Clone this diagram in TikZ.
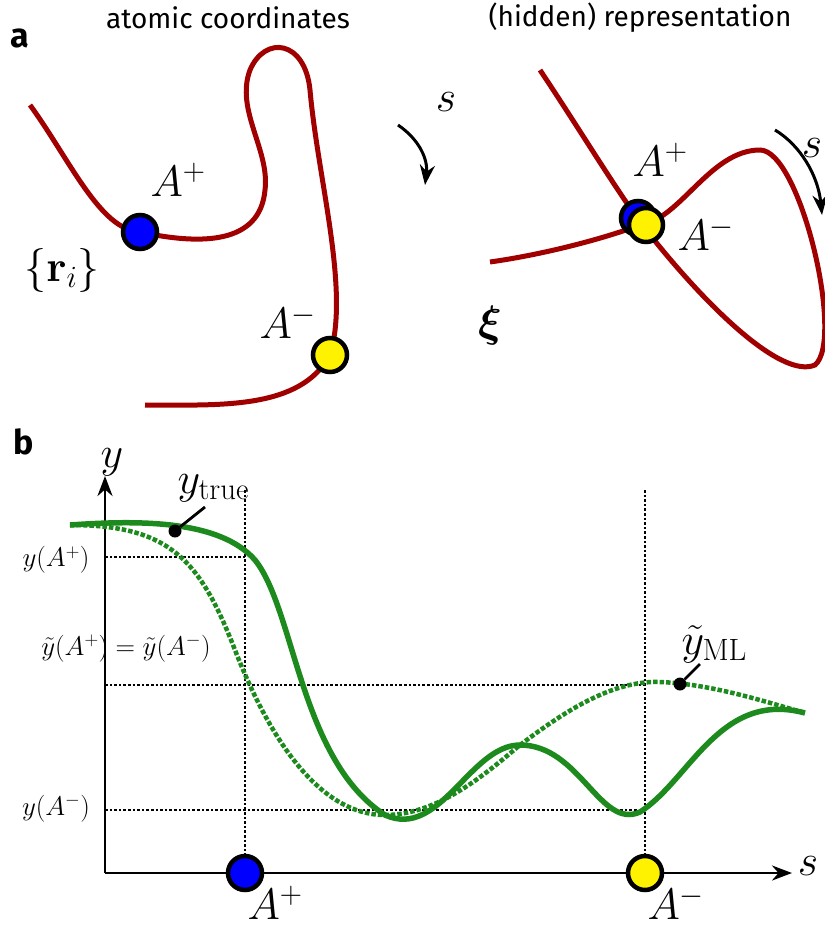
\RequirePackage{fix-cm}
\documentclass[tikz,border=0pt]{standalone}
\usepackage{amsmath,bm}
\usepackage[no-math]{fontspec}
\setmainfont{Fira Sans}
\usetikzlibrary{arrows.meta}
\definecolor{cred}{HTML}{A00000}
\definecolor{cgreen}{HTML}{1C8A1C}
\begin{document}
\begin{tikzpicture}[x=1pt,y=-1pt,
 curve/.style={cred,line width=5pt},
 gline/.style={cgreen,line width=5.5pt},
 gdot/.style={cgreen,line width=4.5pt,dotted},
 aux/.style={black,line width=2.6pt,dotted},
 ax/.style={line width=2.8pt,-{Stealth[length=20pt,width=15pt]}},
 pt/.style={circle,draw=black,line width=4.5pt,minimum size=34pt,inner sep=0pt},
 sml/.style={circle,fill=black,inner sep=0pt,minimum size=13pt},
 lab/.style={font=\fontsize{44}{46}\selectfont},
 tl/.style={font=\fontsize{27}{30}\selectfont}]
\useasboundingbox (0,0) rectangle (825,927);
\node[font=\bfseries\fontsize{34}{36}\selectfont] (la) at (20,38) {a};
\node[font=\bfseries\fontsize{34}{36}\selectfont] (lb) at (24,442) {b};
\node[font=\fontsize{28}{30}\selectfont] (t1) at (228,18) {atomic coordinates};
\node[font=\fontsize{28}{30}\selectfont] (t2) at (640,18) {(hidden) representation};
% left curve
\draw[curve] (30,105) .. controls (70,160) and (100,230) .. (140,232)
  .. controls (200,245) and (260,245) .. (265,190)
  .. controls (270,150) and (235,110) .. (250,70)
  .. controls (265,35) and (305,40) .. (310,90)
  .. controls (318,180) and (350,290) .. (330,355)
  .. controls (300,410) and (220,405) .. (145,405);
\node[pt,fill=blue] (ap) at (140,232) {};
\node[pt,fill=yellow] (am) at (330,355) {};
\node[lab] (lap) at (178,180) {$A^+$};
\node[lab] (lam) at (288,322) {$A^-$};
\node[lab] (lr) at (62,270) {$\{\mathbf{r}_i\}$};
\coordinate (s1a) at (398,125); \coordinate (s1b) at (425,185);
\draw[line width=3pt,-{Stealth[length=20pt,width=15pt]}] (s1a) .. controls (420,140) and (428,160) .. (s1b);
\node[lab] (ls1) at (446,102) {$s$};
% right curve
\draw[curve] (540,70) .. controls (580,130) and (610,180) .. (640,222)
  .. controls (700,300) and (780,380) .. (815,365)
  .. controls (845,340) and (800,150) .. (760,150)
  .. controls (710,150) and (680,220) .. (640,225)
  .. controls (600,240) and (540,255) .. (490,262);
\node[pt,fill=blue] (bp) at (638,218) {};
\node[pt,fill=yellow] (bm) at (646,225) {};
\node[lab] (lbp) at (660,160) {$A^+$};
\node[lab] (lbm) at (706,234) {$A^-$};
\node[lab] (lxi) at (490,325) {$\bm{\xi}$};
\coordinate (s2a) at (775,130); \coordinate (s2b) at (822,215);
\draw[line width=3pt,-{Stealth[length=20pt,width=15pt]}] (s2a) .. controls (800,145) and (818,175) .. (s2b);
\node[lab] (ls2) at (812,148) {$s$};
% part b axes
\coordinate (o) at (105,873);
\coordinate (xe) at (792,873);
\coordinate (ye) at (105,476);
\draw[ax] (o) -- (xe);
\draw[ax] (o) -- (ye);
\node[lab] (ly) at (112,462) {$y$};
\node[lab] (lsx) at (808,866) {$s$};
\coordinate (v1t) at (245,490); \coordinate (v1b) at (245,873);
\coordinate (v2t) at (645,490); \coordinate (v2b) at (645,873);
\draw[aux] (v1t) -- (v1b);
\draw[aux] (v2t) -- (v2b);
\coordinate (h1a) at (105,557); \coordinate (h1b) at (245,557);
\coordinate (h2a) at (105,685); \coordinate (h2b) at (645,685);
\coordinate (h3a) at (105,810); \coordinate (h3b) at (645,810);
\draw[aux] (h1a) -- (h1b);
\draw[aux] (h2a) -- (h2b);
\draw[aux] (h3a) -- (h3b);
\node[tl] (ly1) at (56,560) {$y(A^+)$};
\node[tl] (ly2) at (126,648) {$\tilde y(A^+)=\tilde y(A^-)$};
\node[tl] (ly3) at (56,808) {$y(A^-)$};
% curves
\draw[gline] (70,525) .. controls (140,520) and (220,520) .. (255,560)
  .. controls (295,610) and (300,760) .. (385,815)
  .. controls (440,840) and (470,745) .. (520,745)
  .. controls (580,745) and (600,830) .. (640,812)
  .. controls (690,780) and (720,690) .. (805,713);
\draw[gdot] (70,525) .. controls (170,525) and (200,560) .. (235,650)
  .. controls (270,740) and (320,815) .. (385,815)
  .. controls (440,815) and (490,770) .. (520,745)
  .. controls (560,715) and (610,680) .. (660,682)
  .. controls (710,684) and (760,700) .. (805,713);
\node[sml] (dt) at (175,531) {};
\node[sml] (dm) at (680,684) {};
\coordinate (pt1) at (205,507);
\coordinate (pt2) at (700,664);
\draw[line width=2.8pt] (dt) -- (pt1);
\draw[line width=2.8pt] (dm) -- (pt2);
\node[lab,anchor=west] (lyt) at (174,488) {$y_{\mathrm{true}}$};
\node[lab,anchor=west] (lym) at (678,644) {$\tilde y_{\mathrm{ML}}$};
\node[pt,fill=blue] (cp) at (245,873) {};
\node[pt,fill=yellow] (cm) at (645,873) {};
\node[lab] (lcp) at (275,903) {$A^+$};
\node[lab] (lcm) at (676,903) {$A^-$};
\end{tikzpicture}
\end{document}
